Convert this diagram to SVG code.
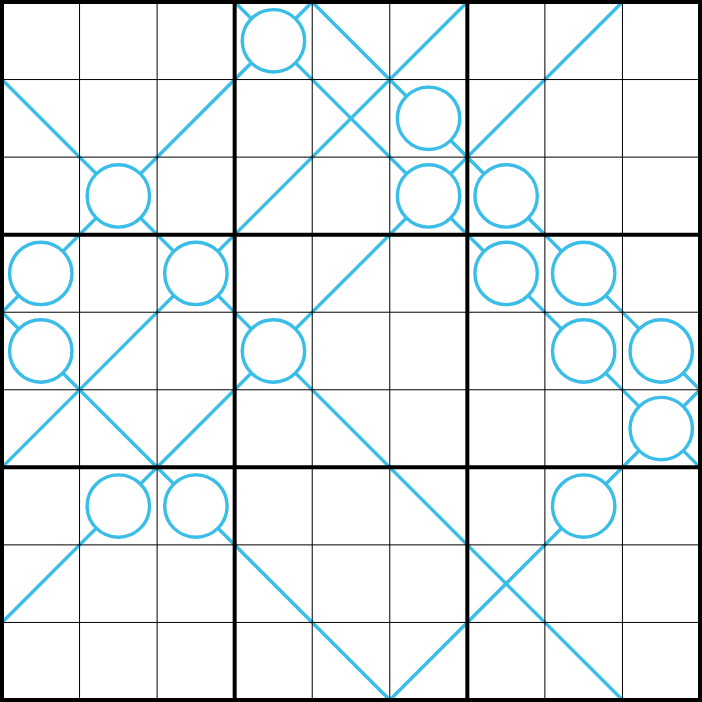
<svg xmlns="http://www.w3.org/2000/svg" width="702" height="702" viewBox="0 0 702 702">
<style>
.ln{stroke:#3abde7;stroke-width:3.4;fill:none;stroke-linecap:butt}
.cir{stroke:#3abde7;stroke-width:3.4;fill:#ffffff}
.thin{stroke:#000;stroke-width:1;fill:none}
.thick{stroke:#000;stroke-width:4;fill:none;stroke-linecap:square}
</style>
<rect x="0" y="0" width="702" height="702" fill="#ffffff"/>
<g id="connectors">
<line class="ln" x1="2" y1="79.556" x2="622.444" y2="700"/>
<line class="ln" x1="2" y1="312.222" x2="389.778" y2="700"/>
<line class="ln" x1="234.667" y1="2" x2="700" y2="467.333"/>
<line class="ln" x1="312.222" y1="2" x2="700" y2="389.778"/>
<line class="ln" x1="2" y1="312.222" x2="312.222" y2="2"/>
<line class="ln" x1="2" y1="467.333" x2="467.333" y2="2"/>
<line class="ln" x1="2" y1="622.444" x2="622.444" y2="2"/>
<line class="ln" x1="389.778" y1="700" x2="700" y2="389.778"/>
</g>
<g id="grid">
<path class="thin" d="M79.556 2V700M157.111 2V700M312.222 2V700M389.778 2V700M544.889 2V700M622.444 2V700M2 79.556H700M2 157.111H700M2 312.222H700M2 389.778H700M2 544.889H700M2 622.444H700"/>
<path class="thick" d="M2 2H700V700H2ZM234.667 2V700M467.333 2V700M2 234.667H700M2 467.333H700"/>
</g>
<g id="circles">
<circle id="c30" class="cir" cx="273.444" cy="40.778" r="31.2"/>
<circle id="c51" class="cir" cx="428.556" cy="118.333" r="31.2"/>
<circle id="c12" class="cir" cx="118.333" cy="195.889" r="31.2"/>
<circle id="c52" class="cir" cx="428.556" cy="195.889" r="31.2"/>
<circle id="c62" class="cir" cx="506.111" cy="195.889" r="31.2"/>
<circle id="c03" class="cir" cx="40.778" cy="273.444" r="31.2"/>
<circle id="c23" class="cir" cx="195.889" cy="273.444" r="31.2"/>
<circle id="c63" class="cir" cx="506.111" cy="273.444" r="31.2"/>
<circle id="c73" class="cir" cx="583.667" cy="273.444" r="31.2"/>
<circle id="c04" class="cir" cx="40.778" cy="351" r="31.2"/>
<circle id="c34" class="cir" cx="273.444" cy="351" r="31.2"/>
<circle id="c74" class="cir" cx="583.667" cy="351" r="31.2"/>
<circle id="c84" class="cir" cx="661.222" cy="351" r="31.2"/>
<circle id="c85" class="cir" cx="661.222" cy="428.556" r="31.2"/>
<circle id="c16" class="cir" cx="118.333" cy="506.111" r="31.2"/>
<circle id="c26" class="cir" cx="195.889" cy="506.111" r="31.2"/>
<circle id="c76" class="cir" cx="583.667" cy="506.111" r="31.2"/>
</g>
</svg>
